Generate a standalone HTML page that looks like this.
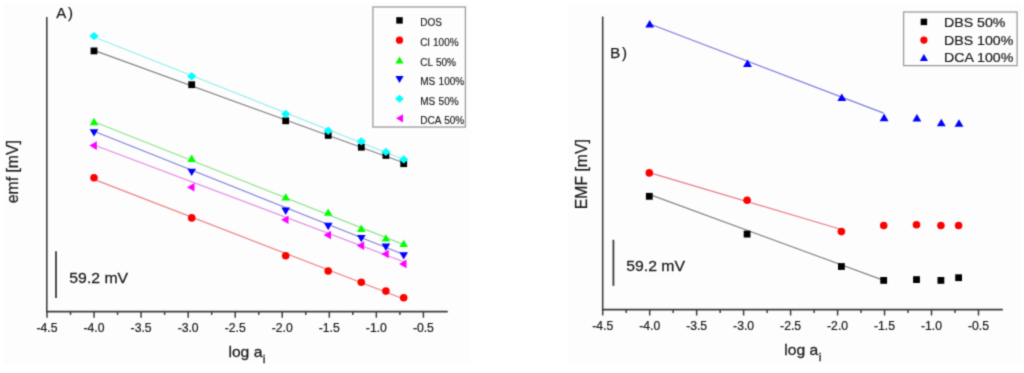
<!DOCTYPE html>
<html><head><meta charset="utf-8"><title>EMF plots</title>
<style>
html,body{margin:0;padding:0;background:#ffffff;}
body{width:1024px;height:373px;overflow:hidden;font-family:"Liberation Sans", sans-serif;}
svg{display:block;}
svg text{font-family:"Liberation Sans", sans-serif;stroke:#1a1a1a;stroke-width:0.25px;}
</style></head>
<body>
<svg width="1024" height="373" viewBox="0 0 1024 373">
<defs><filter id="soft" x="0" y="0" width="1024" height="373" filterUnits="userSpaceOnUse" color-interpolation-filters="sRGB"><feConvolveMatrix order="3" kernelMatrix="1 4 1 4 16 4 1 4 1" divisor="36" edgeMode="duplicate"/></filter></defs>
<g filter="url(#soft)">
<rect width="1024" height="373" fill="#ffffff"/>
<rect x="4" y="3" width="466" height="360.8" fill="#fdfdfd"/>
<rect x="568" y="3" width="454" height="360.8" fill="#fdfdfd"/>
<line x1="94" y1="50.36" x2="403.7" y2="162.80" stroke="#858585" stroke-width="1.15"/>
<line x1="94" y1="179.39" x2="403.7" y2="299.02" stroke="#ee8080" stroke-width="1.15"/>
<line x1="94" y1="121.74" x2="403.7" y2="244.61" stroke="#8ee48e" stroke-width="1.15"/>
<line x1="94" y1="131.30" x2="403.7" y2="254.46" stroke="#8282dc" stroke-width="1.15"/>
<line x1="94" y1="37.03" x2="403.7" y2="159.48" stroke="#96eeee" stroke-width="1.15"/>
<line x1="94" y1="144.99" x2="403.7" y2="261.81" stroke="#e488e4" stroke-width="1.15"/>
<rect x="90.60" y="47.50" width="6.80" height="6.80" fill="#000000"/>
<rect x="188.30" y="81.30" width="6.80" height="6.80" fill="#000000"/>
<rect x="282.30" y="117.40" width="6.80" height="6.80" fill="#000000"/>
<rect x="324.80" y="132.00" width="6.80" height="6.80" fill="#000000"/>
<rect x="357.90" y="143.80" width="6.80" height="6.80" fill="#000000"/>
<rect x="382.50" y="152.00" width="6.80" height="6.80" fill="#000000"/>
<rect x="400.30" y="160.30" width="6.80" height="6.80" fill="#000000"/>
<circle cx="94.00" cy="177.80" r="3.80" fill="#ff0000"/>
<circle cx="191.70" cy="217.90" r="3.80" fill="#ff0000"/>
<circle cx="285.70" cy="255.80" r="3.80" fill="#ff0000"/>
<circle cx="328.20" cy="271.00" r="3.80" fill="#ff0000"/>
<circle cx="361.30" cy="282.20" r="3.80" fill="#ff0000"/>
<circle cx="385.90" cy="291.10" r="3.80" fill="#ff0000"/>
<circle cx="403.70" cy="297.80" r="3.80" fill="#ff0000"/>
<polygon points="94.00,117.80 98.30,125.20 89.70,125.20" fill="#00ff00"/>
<polygon points="191.70,154.60 196.00,162.00 187.40,162.00" fill="#00ff00"/>
<polygon points="285.70,193.20 290.00,200.60 281.40,200.60" fill="#00ff00"/>
<polygon points="328.20,208.40 332.50,215.80 323.90,215.80" fill="#00ff00"/>
<polygon points="361.30,224.50 365.60,231.90 357.00,231.90" fill="#00ff00"/>
<polygon points="385.90,234.20 390.20,241.60 381.60,241.60" fill="#00ff00"/>
<polygon points="403.70,239.70 408.00,247.10 399.40,247.10" fill="#00ff00"/>
<polygon points="94.00,136.60 98.30,129.20 89.70,129.20" fill="#0000ff"/>
<polygon points="191.70,176.10 196.00,168.70 187.40,168.70" fill="#0000ff"/>
<polygon points="285.70,215.00 290.00,207.60 281.40,207.60" fill="#0000ff"/>
<polygon points="328.20,230.20 332.50,222.80 323.90,222.80" fill="#0000ff"/>
<polygon points="361.30,242.30 365.60,234.90 357.00,234.90" fill="#0000ff"/>
<polygon points="385.90,251.00 390.20,243.60 381.60,243.60" fill="#0000ff"/>
<polygon points="403.70,259.60 408.00,252.20 399.40,252.20" fill="#0000ff"/>
<polygon points="94.00,31.90 98.60,36.10 94.00,40.30 89.40,36.10" fill="#00ffff"/>
<polygon points="191.70,72.10 196.30,76.30 191.70,80.50 187.10,76.30" fill="#00ffff"/>
<polygon points="285.70,109.80 290.30,114.00 285.70,118.20 281.10,114.00" fill="#00ffff"/>
<polygon points="328.20,126.50 332.80,130.70 328.20,134.90 323.60,130.70" fill="#00ffff"/>
<polygon points="361.30,137.20 365.90,141.40 361.30,145.60 356.70,141.40" fill="#00ffff"/>
<polygon points="385.90,147.70 390.50,151.90 385.90,156.10 381.30,151.90" fill="#00ffff"/>
<polygon points="403.70,155.20 408.30,159.40 403.70,163.60 399.10,159.40" fill="#00ffff"/>
<polygon points="89.40,145.60 96.80,141.30 96.80,149.90" fill="#ff00ff"/>
<polygon points="187.10,187.20 194.50,182.90 194.50,191.50" fill="#ff00ff"/>
<polygon points="281.10,219.80 288.50,215.50 288.50,224.10" fill="#ff00ff"/>
<polygon points="323.60,235.00 331.00,230.70 331.00,239.30" fill="#ff00ff"/>
<polygon points="356.70,245.60 364.10,241.30 364.10,249.90" fill="#ff00ff"/>
<polygon points="381.30,254.00 388.70,249.70 388.70,258.30" fill="#ff00ff"/>
<polygon points="399.10,263.90 406.50,259.60 406.50,268.20" fill="#ff00ff"/>
<line x1="46.8" y1="16.9" x2="46.8" y2="312.5" stroke="#3c3c3c" stroke-width="1.55"/>
<line x1="46.2" y1="311.7" x2="447.72499999999997" y2="311.7" stroke="#3c3c3c" stroke-width="1.7"/>
<line x1="47.00" y1="311.7" x2="47.00" y2="317.7" stroke="#3c3c3c" stroke-width="1.5"/>
<text x="47.00" y="332.1" font-size="12.2" text-anchor="middle" fill="#1a1a1a" style="stroke-width:0.22px">-4.5</text>
<line x1="70.53" y1="311.7" x2="70.53" y2="314.9" stroke="#3c3c3c" stroke-width="1.5"/>
<line x1="94.05" y1="311.7" x2="94.05" y2="317.7" stroke="#3c3c3c" stroke-width="1.5"/>
<text x="94.05" y="332.1" font-size="12.2" text-anchor="middle" fill="#1a1a1a" style="stroke-width:0.22px">-4.0</text>
<line x1="117.57" y1="311.7" x2="117.57" y2="314.9" stroke="#3c3c3c" stroke-width="1.5"/>
<line x1="141.10" y1="311.7" x2="141.10" y2="317.7" stroke="#3c3c3c" stroke-width="1.5"/>
<text x="141.10" y="332.1" font-size="12.2" text-anchor="middle" fill="#1a1a1a" style="stroke-width:0.22px">-3.5</text>
<line x1="164.62" y1="311.7" x2="164.62" y2="314.9" stroke="#3c3c3c" stroke-width="1.5"/>
<line x1="188.15" y1="311.7" x2="188.15" y2="317.7" stroke="#3c3c3c" stroke-width="1.5"/>
<text x="188.15" y="332.1" font-size="12.2" text-anchor="middle" fill="#1a1a1a" style="stroke-width:0.22px">-3.0</text>
<line x1="211.67" y1="311.7" x2="211.67" y2="314.9" stroke="#3c3c3c" stroke-width="1.5"/>
<line x1="235.20" y1="311.7" x2="235.20" y2="317.7" stroke="#3c3c3c" stroke-width="1.5"/>
<text x="235.20" y="332.1" font-size="12.2" text-anchor="middle" fill="#1a1a1a" style="stroke-width:0.22px">-2.5</text>
<line x1="258.73" y1="311.7" x2="258.73" y2="314.9" stroke="#3c3c3c" stroke-width="1.5"/>
<line x1="282.25" y1="311.7" x2="282.25" y2="317.7" stroke="#3c3c3c" stroke-width="1.5"/>
<text x="282.25" y="332.1" font-size="12.2" text-anchor="middle" fill="#1a1a1a" style="stroke-width:0.22px">-2.0</text>
<line x1="305.77" y1="311.7" x2="305.77" y2="314.9" stroke="#3c3c3c" stroke-width="1.5"/>
<line x1="329.30" y1="311.7" x2="329.30" y2="317.7" stroke="#3c3c3c" stroke-width="1.5"/>
<text x="329.30" y="332.1" font-size="12.2" text-anchor="middle" fill="#1a1a1a" style="stroke-width:0.22px">-1.5</text>
<line x1="352.82" y1="311.7" x2="352.82" y2="314.9" stroke="#3c3c3c" stroke-width="1.5"/>
<line x1="376.35" y1="311.7" x2="376.35" y2="317.7" stroke="#3c3c3c" stroke-width="1.5"/>
<text x="376.35" y="332.1" font-size="12.2" text-anchor="middle" fill="#1a1a1a" style="stroke-width:0.22px">-1.0</text>
<line x1="399.88" y1="311.7" x2="399.88" y2="314.9" stroke="#3c3c3c" stroke-width="1.5"/>
<line x1="423.40" y1="311.7" x2="423.40" y2="317.7" stroke="#3c3c3c" stroke-width="1.5"/>
<text x="423.40" y="332.1" font-size="12.2" text-anchor="middle" fill="#1a1a1a" style="stroke-width:0.22px">-0.5</text>
<line x1="56" y1="251.3" x2="56" y2="297.9" stroke="#3c3c3c" stroke-width="1.8"/>
<text transform="translate(69.3,282.6) scale(1.04,1)" font-size="15.2" fill="#1a1a1a">59.2 mV</text>
<text x="56.2" y="17.8" font-size="15" letter-spacing="1.8" fill="#1a1a1a">A)</text>
<text transform="translate(17.9,171.7) rotate(-90)" font-size="15.8" text-anchor="middle" fill="#1a1a1a">emf [mV]</text>
<text transform="translate(228.4,357.3) scale(1.06,1)" font-size="14.8" fill="#1a1a1a">log a<tspan font-size="11.5" dx="0.4" dy="5.6">i</tspan></text>
<rect x="372.9" y="6.95" width="92.5" height="120.1" fill="none" stroke="#9c9c9c" stroke-width="1.3"/>
<rect x="396.27" y="17.17" width="6.46" height="6.46" fill="#000000"/>
<text x="420.2" y="26.20" font-size="10" fill="#1a1a1a" word-spacing="0.6" style="stroke-width:0.15px">DOS</text>
<circle cx="399.50" cy="40.20" r="3.61" fill="#ff0000"/>
<text x="420.2" y="46.00" font-size="10" fill="#1a1a1a" word-spacing="0.6" style="stroke-width:0.15px">Cl 100%</text>
<polygon points="399.50,56.38 403.58,63.41 395.42,63.41" fill="#00ff00"/>
<text x="420.2" y="65.70" font-size="10" fill="#1a1a1a" word-spacing="0.6" style="stroke-width:0.15px">CL 50%</text>
<polygon points="399.50,83.11 403.58,76.08 395.42,76.08" fill="#0000ff"/>
<text x="420.2" y="85.40" font-size="10" fill="#1a1a1a" word-spacing="0.6" style="stroke-width:0.15px">MS 100%</text>
<polygon points="399.50,94.81 403.87,98.80 399.50,102.79 395.13,98.80" fill="#00ffff"/>
<text x="420.2" y="104.60" font-size="10" fill="#1a1a1a" word-spacing="0.6" style="stroke-width:0.15px">MS 50%</text>
<polygon points="395.99,118.30 403.01,114.22 403.01,122.38" fill="#ff00ff"/>
<text x="420.2" y="124.10" font-size="10" fill="#1a1a1a" word-spacing="0.6" style="stroke-width:0.15px">DCA 50%</text>
<line x1="649.3" y1="194.35" x2="883.7" y2="280.41" stroke="#858585" stroke-width="1.15"/>
<line x1="649.3" y1="172.67" x2="841.4" y2="229.47" stroke="#e97c86" stroke-width="1.15"/>
<line x1="649.3" y1="23.70" x2="883.7" y2="113.13" stroke="#7d7be0" stroke-width="1.15"/>
<rect x="645.90" y="192.90" width="6.80" height="6.80" fill="#000000"/>
<rect x="743.70" y="230.70" width="6.80" height="6.80" fill="#000000"/>
<rect x="838.00" y="263.10" width="6.80" height="6.80" fill="#000000"/>
<rect x="880.30" y="277.00" width="6.80" height="6.80" fill="#000000"/>
<rect x="913.10" y="276.20" width="6.80" height="6.80" fill="#000000"/>
<rect x="937.50" y="277.00" width="6.80" height="6.80" fill="#000000"/>
<rect x="955.20" y="274.30" width="6.80" height="6.80" fill="#000000"/>
<circle cx="649.30" cy="172.90" r="3.80" fill="#ff0000"/>
<circle cx="747.10" cy="200.30" r="3.80" fill="#ff0000"/>
<circle cx="841.40" cy="231.60" r="3.80" fill="#ff0000"/>
<circle cx="883.70" cy="225.50" r="3.80" fill="#ff0000"/>
<circle cx="916.50" cy="224.70" r="3.80" fill="#ff0000"/>
<circle cx="940.90" cy="225.50" r="3.80" fill="#ff0000"/>
<circle cx="958.60" cy="225.50" r="3.80" fill="#ff0000"/>
<polygon points="649.70,19.99 654.13,27.61 645.27,27.61" fill="#0000ff"/>
<polygon points="747.50,59.39 751.93,67.01 743.07,67.01" fill="#0000ff"/>
<polygon points="841.80,93.49 846.23,101.11 837.37,101.11" fill="#0000ff"/>
<polygon points="884.10,113.59 888.53,121.21 879.67,121.21" fill="#0000ff"/>
<polygon points="916.90,113.89 921.33,121.51 912.47,121.51" fill="#0000ff"/>
<polygon points="941.30,118.69 945.73,126.31 936.87,126.31" fill="#0000ff"/>
<polygon points="959.00,119.19 963.43,126.81 954.57,126.81" fill="#0000ff"/>
<line x1="602.7" y1="16.5" x2="602.7" y2="310.5" stroke="#3c3c3c" stroke-width="1.55"/>
<line x1="601.9000000000001" y1="309.7" x2="1002.7875" y2="309.7" stroke="#3c3c3c" stroke-width="1.7"/>
<line x1="602.70" y1="309.7" x2="602.70" y2="315.5" stroke="#3c3c3c" stroke-width="1.5"/>
<text x="602.70" y="329.7" font-size="12.2" text-anchor="middle" fill="#1a1a1a" style="stroke-width:0.22px">-4.5</text>
<line x1="626.19" y1="309.7" x2="626.19" y2="312.9" stroke="#3c3c3c" stroke-width="1.5"/>
<line x1="649.68" y1="309.7" x2="649.68" y2="315.5" stroke="#3c3c3c" stroke-width="1.5"/>
<text x="649.68" y="329.7" font-size="12.2" text-anchor="middle" fill="#1a1a1a" style="stroke-width:0.22px">-4.0</text>
<line x1="673.16" y1="309.7" x2="673.16" y2="312.9" stroke="#3c3c3c" stroke-width="1.5"/>
<line x1="696.65" y1="309.7" x2="696.65" y2="315.5" stroke="#3c3c3c" stroke-width="1.5"/>
<text x="696.65" y="329.7" font-size="12.2" text-anchor="middle" fill="#1a1a1a" style="stroke-width:0.22px">-3.5</text>
<line x1="720.14" y1="309.7" x2="720.14" y2="312.9" stroke="#3c3c3c" stroke-width="1.5"/>
<line x1="743.62" y1="309.7" x2="743.62" y2="315.5" stroke="#3c3c3c" stroke-width="1.5"/>
<text x="743.62" y="329.7" font-size="12.2" text-anchor="middle" fill="#1a1a1a" style="stroke-width:0.22px">-3.0</text>
<line x1="767.11" y1="309.7" x2="767.11" y2="312.9" stroke="#3c3c3c" stroke-width="1.5"/>
<line x1="790.60" y1="309.7" x2="790.60" y2="315.5" stroke="#3c3c3c" stroke-width="1.5"/>
<text x="790.60" y="329.7" font-size="12.2" text-anchor="middle" fill="#1a1a1a" style="stroke-width:0.22px">-2.5</text>
<line x1="814.09" y1="309.7" x2="814.09" y2="312.9" stroke="#3c3c3c" stroke-width="1.5"/>
<line x1="837.58" y1="309.7" x2="837.58" y2="315.5" stroke="#3c3c3c" stroke-width="1.5"/>
<text x="837.58" y="329.7" font-size="12.2" text-anchor="middle" fill="#1a1a1a" style="stroke-width:0.22px">-2.0</text>
<line x1="861.06" y1="309.7" x2="861.06" y2="312.9" stroke="#3c3c3c" stroke-width="1.5"/>
<line x1="884.55" y1="309.7" x2="884.55" y2="315.5" stroke="#3c3c3c" stroke-width="1.5"/>
<text x="884.55" y="329.7" font-size="12.2" text-anchor="middle" fill="#1a1a1a" style="stroke-width:0.22px">-1.5</text>
<line x1="908.04" y1="309.7" x2="908.04" y2="312.9" stroke="#3c3c3c" stroke-width="1.5"/>
<line x1="931.53" y1="309.7" x2="931.53" y2="315.5" stroke="#3c3c3c" stroke-width="1.5"/>
<text x="931.53" y="329.7" font-size="12.2" text-anchor="middle" fill="#1a1a1a" style="stroke-width:0.22px">-1.0</text>
<line x1="955.01" y1="309.7" x2="955.01" y2="312.9" stroke="#3c3c3c" stroke-width="1.5"/>
<line x1="978.50" y1="309.7" x2="978.50" y2="315.5" stroke="#3c3c3c" stroke-width="1.5"/>
<text x="978.50" y="329.7" font-size="12.2" text-anchor="middle" fill="#1a1a1a" style="stroke-width:0.22px">-0.5</text>
<line x1="613.4" y1="239.8" x2="613.4" y2="285.9" stroke="#3c3c3c" stroke-width="1.8"/>
<text transform="translate(626.2,270.8) scale(1.04,1)" font-size="15.2" fill="#1a1a1a">59.2 mV</text>
<text x="610.3" y="57.9" font-size="15" letter-spacing="1.8" fill="#1a1a1a">B)</text>
<text transform="translate(586.5,174.2) rotate(-90) scale(0.985,1)" font-size="16" text-anchor="middle" fill="#1a1a1a">EMF [mV]</text>
<text transform="translate(784.3,355.3) scale(1.06,1)" font-size="14.8" fill="#1a1a1a">log a<tspan font-size="11.5" dx="0.4" dy="5.6">i</tspan></text>
<rect x="903.6" y="12.0" width="113.5" height="53.6" fill="none" stroke="#9c9c9c" stroke-width="1.3"/>
<rect x="920.67" y="18.67" width="6.46" height="6.46" fill="#000000"/>
<text transform="translate(944.0,26.70) scale(1.05,1)" font-size="13.5" fill="#1a1a1a" style="stroke-width:0.2px">DBS 50%</text>
<circle cx="923.90" cy="40.10" r="3.61" fill="#ff0000"/>
<text transform="translate(944.0,44.90) scale(1.05,1)" font-size="13.5" fill="#1a1a1a" style="stroke-width:0.2px">DBS 100%</text>
<polygon points="923.90,54.09 927.99,61.12 919.81,61.12" fill="#0000ff"/>
<text transform="translate(944.0,62.40) scale(1.05,1)" font-size="13.5" fill="#1a1a1a" style="stroke-width:0.2px">DCA 100%</text>
</g>
</svg>
</body></html>
